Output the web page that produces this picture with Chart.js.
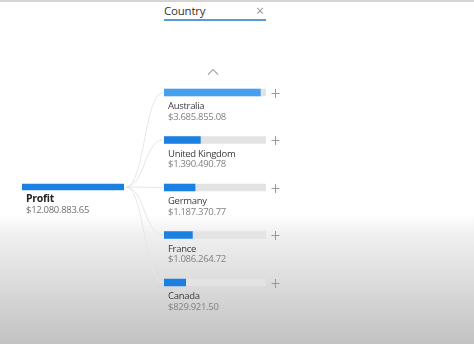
<!DOCTYPE html>
<html>
<head>
<meta charset="utf-8">
<script src="https://cdn.jsdelivr.net/npm/chart.js@4"></script>
<style>
  html, body { margin: 0; padding: 0; }
  body {
    width: 474px; height: 344px; position: relative; overflow: hidden;
    background: linear-gradient(to bottom, #fff 0px, #fff 214px, #f0f0f0 234px, #c2c2c2 344px);
    font-family: "Open Sans", "Noto Sans", sans-serif;
  }
  .topline { position: absolute; left: 0; top: 0; width: 474px; height: 2px; background: #d4d4d4; }
  .head { position: absolute; left: 164px; top: 2px; width: 102px; height: 17px; border-bottom: 2px solid #5c9ad2; }
  .head span { position: absolute; left: 0; top: 1px; font-size: 11.5px; letter-spacing: -0.2px; color: #333; }
  .head b { position: absolute; right: 2px; top: -1px; font-weight: normal; font-size: 14px; color: #9a9a9a; }
  canvas { position: absolute; left: 0; top: 0; }
</style>
</head>
<body>
<div class="topline"></div>
<div class="head"><span>Country</span><b>×</b></div>
<canvas id="rootChart" width="474" height="344"></canvas>
<canvas id="treeChart" width="474" height="344"></canvas>
<script>
// data
const countries = ['Australia', 'United Kingdom', 'Germany', 'France', 'Canada'];
const profits = [3685855.08, 1390490.78, 1187370.77, 1086264.72, 829921.50];
const rootLabel = 'Profit';
const rootValue = 12080883.65;
const barMax = 3900000;

const fmt = v => '$' + v.toLocaleString('en-US', {minimumFractionDigits: 2, maximumFractionDigits: 2}).replace(/,/g, '.');
const fontName = '"Open Sans", "Noto Sans", sans-serif';

// root node (Profit)
const rootLabels = {
  id: 'rootLabels',
  afterDatasetsDraw(chart) {
    const c = chart.ctx;
    const x = chart.scales.x.left + 4;
    const y = chart.scales.y.getPixelForValue(0);
    c.save();
    c.letterSpacing = '-0.3px';
    c.fillStyle = '#252423';
    c.font = 'bold 10.5px ' + fontName;
    c.fillText(rootLabel, x, y + 15);
    c.fillStyle = '#707070';
    c.font = '9.5px ' + fontName;
    c.fillText(fmt(rootValue), x, y + 25.5);
    c.restore();
  }
};

const rootChart = new Chart(document.getElementById('rootChart'), {
  type: 'bar',
  data: {
    labels: [rootLabel],
    datasets: [{ data: [rootValue], backgroundColor: '#1a80e2', barThickness: 6 }]
  },
  options: {
    indexAxis: 'y', responsive: false, animation: false,
    layout: { padding: { left: 22, right: 350, top: 177, bottom: 147 } },
    scales: { x: { display: false, min: 0, max: rootValue }, y: { display: false } },
    plugins: { legend: { display: false }, tooltip: { enabled: false } }
  },
  plugins: [rootLabels]
});

// connectors, labels, plus signs, chevron
const treeDeco = {
  id: 'treeDeco',
  beforeDatasetsDraw(chart) {
    const c = chart.ctx;
    const x0 = rootChart.scales.x.getPixelForValue(rootValue) + 2;
    const y0 = rootChart.scales.y.getPixelForValue(0);
    const x1 = chart.scales.x.left - 1;
    const xm = (x0 + x1) / 2;
    c.save();
    c.strokeStyle = '#e6e6e6';
    c.lineWidth = 1;
    countries.forEach((n, i) => {
      const y1 = chart.scales.y.getPixelForValue(i);
      c.beginPath();
      c.moveTo(x0, y0);
      c.bezierCurveTo(xm, y0, xm, y1, x1, y1);
      c.stroke();
    });
    c.restore();
  },
  afterDatasetsDraw(chart) {
    const c = chart.ctx;
    const xs = chart.scales.x;
    c.save();
    c.letterSpacing = '-0.3px';
    countries.forEach((n, i) => {
      const y = chart.scales.y.getPixelForValue(i);
      c.fillStyle = '#3a3a3a';
      c.font = '9.5px ' + fontName;
      c.fillText(n, xs.left + 4, y + 16.5);
      c.fillStyle = '#828282';
      c.fillText(fmt(profits[i]), xs.left + 4, y + 27);
      // plus
      const px = xs.right + 9.5;
      c.strokeStyle = '#9a9a9a';
      c.lineWidth = 1;
      c.beginPath();
      c.moveTo(px - 4, Math.round(y) + 0.5); c.lineTo(px + 4, Math.round(y) + 0.5);
      c.moveTo(px, Math.round(y) - 4); c.lineTo(px, Math.round(y) + 5);
      c.stroke();
    });
    // chevron
    const cx = (xs.left + xs.right) / 2 - 2;
    const cy = chart.scales.y.getPixelForValue(0) - 21;
    c.strokeStyle = '#a8a8a8';
    c.lineWidth = 1.2;
    c.beginPath();
    c.moveTo(cx - 5, cy + 3); c.lineTo(cx, cy - 2); c.lineTo(cx + 5, cy + 3);
    c.stroke();
    c.restore();
  }
};

new Chart(document.getElementById('treeChart'), {
  type: 'bar',
  data: {
    labels: countries,
    datasets: [
      { data: profits, backgroundColor: countries.map((n, i) => i === 0 ? '#45a0f0' : '#1a80e2'),
        barThickness: 7, grouped: false, order: 0 },
      { data: countries.map(() => barMax), backgroundColor: '#e3e3e3',
        barThickness: 7, grouped: false, order: 1 }
    ]
  },
  options: {
    indexAxis: 'y', responsive: false, animation: false,
    layout: { padding: { left: 164, right: 208, top: 68.75, bottom: 37.75 } },
    scales: { x: { display: false, min: 0, max: barMax }, y: { display: false } },
    plugins: { legend: { display: false }, tooltip: { enabled: false } }
  },
  plugins: [treeDeco]
});
</script>
</body>
</html>
